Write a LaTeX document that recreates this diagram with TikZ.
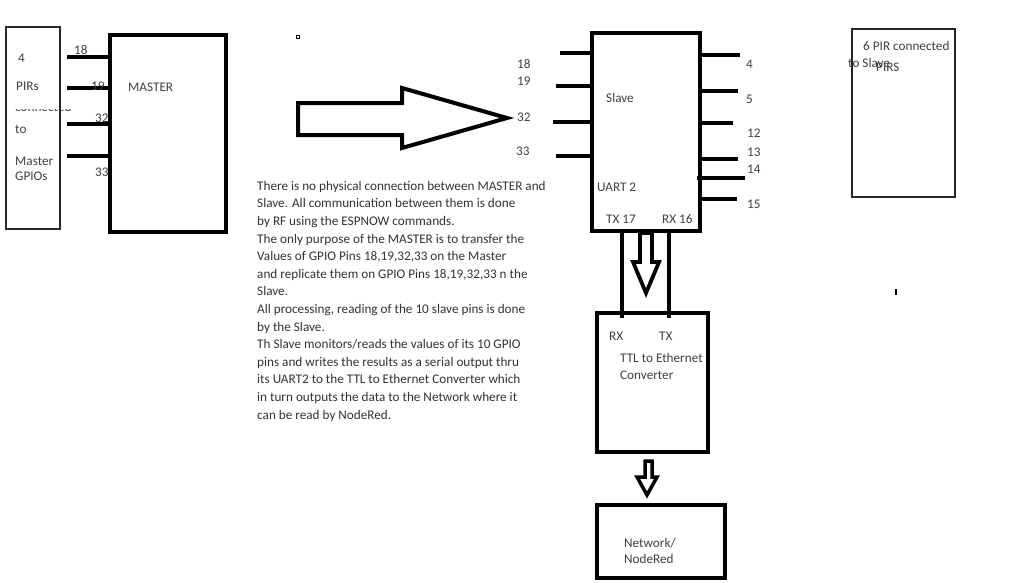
\documentclass[tikz,border=0pt]{standalone}
\usepackage{fontspec}
\setmainfont{Carlito}
\begin{document}
\begin{tikzpicture}[x=1pt,y=-1pt,
  thickbox/.style={draw=black,line width=4.5pt,minimum width=#1,inner sep=0pt},
  thinbox/.style={draw=black!85,line width=1.3pt,inner sep=0pt},
  pin/.style={line width=4pt},
  lbl/.style={text=black!75,font=\fontsize{13.2}{14}\selectfont,inner sep=0pt},
  blk/.style={line width=4pt,line join=miter}]
\useasboundingbox[fill=white] (0,0) rectangle (1035,582);

% Boxes
\node[thinbox,minimum width=54pt,minimum height=202pt] (pirL) at (33,128) {};
\node[thickbox=116pt,minimum height=197pt] (master) at (168,133.5) {};
\node[thickbox=108pt,minimum height=198pt] (slave) at (646,132) {};
\node[thinbox,minimum width=103pt,minimum height=168pt] (pirR) at (903.5,113) {};
\node[thickbox=111pt,minimum height=139pt] (ttl) at (652.5,382.5) {};
\node[thickbox=128pt,minimum height=73pt] (net) at (661,541.5) {};

% Left PIR box text
\node[lbl,anchor=west] (t4) at (18,58) {4};
\node[lbl,anchor=west] (tpirs) at (16,86) {PIRs};
\begin{scope}
\clip (8,109.5) rectangle (90,120);
\node[lbl,anchor=west] (tconn) at (15,107) {connected};
\end{scope}
\node[lbl,anchor=west] (tto) at (15,129) {to};
\node[lbl,anchor=west] (tmaster) at (15,161) {Master};
\node[lbl,anchor=west] (tgpio) at (15,176) {GPIOs};

% Master pins
\coordinate (m1) at (67,57);
\coordinate (m2) at (67,88);
\coordinate (m3) at (67,124);
\coordinate (m4) at (67,156);
\foreach \c in {m1,m2,m3,m4} \draw[pin] (\c) -- (master.west |- \c);
\node[lbl,anchor=west] (l18) at (74,50) {18};
\node[lbl,anchor=west] (l19) at (91,86) {19};
\node[lbl,anchor=west] (l32) at (95,118) {32};
\node[lbl,anchor=west] (l33) at (95,172) {33};
\node[lbl,anchor=west] (mname) at (128,87) {MASTER};

% small marks
\draw[line width=0.9pt] (296.5,35.5) rectangle (299.5,38.5);
\fill (895,289) rectangle (897,295);

% Big arrow
\draw[blk] (298,103) -- (402,103) -- (402,88) -- (507,118) -- (402,148) -- (402,135) -- (298,135) -- cycle;

% Slave left pins
\coordinate (s1) at (560,53);
\coordinate (s2) at (556,86);
\coordinate (s3) at (553,122);
\coordinate (s4) at (556,156);
\foreach \c in {s1,s2,s3,s4} \draw[pin] (\c) -- (slave.west |- \c);
\node[lbl,anchor=west] (sl18) at (517,64) {18};
\node[lbl,anchor=west] (sl19) at (517,81) {19};
\node[lbl,anchor=west] (sl32) at (517,117) {32};
\node[lbl,anchor=west] (sl33) at (516,151) {33};

% Slave right pins
\coordinate (r1) at (740,55);
\coordinate (r2) at (738,91);
\coordinate (r3) at (733,123);
\coordinate (r4) at (738,159);
\coordinate (r6) at (737,199);
\foreach \c in {r1,r2,r3,r4,r6} \draw[pin] (slave.east |- \c) -- (\c);
\coordinate (r5a) at (697,178);
\coordinate (r5) at (745,178);
\draw[pin] (r5a) -- (r5);
\node[lbl,anchor=west] (rl4) at (746,64) {4};
\node[lbl,anchor=west] (rl5) at (746,99) {5};
\node[lbl,anchor=west] (rl12) at (747,133) {12};
\node[lbl,anchor=west] (rl13) at (747,152) {13};
\node[lbl,anchor=west] (rl14) at (747,169) {14};
\node[lbl,anchor=west] (rl15) at (747,204) {15};

\node[lbl,anchor=west] (sname) at (606,98) {Slave};
\node[lbl,anchor=west] (uart) at (597,187) {UART 2};
\node[lbl,anchor=west] (tx17) at (606,219) {TX 17};
\node[lbl,anchor=west] (rx16) at (662,219) {RX 16};

% Right PIR box text
\node[lbl,anchor=west] (pr1) at (863,46) {6 PIR connected};
\node[lbl,anchor=west] (pr3) at (876,67) {PIRS};
\node[lbl,anchor=west] (pr2) at (848,63) {to Slave};

% Wires slave -> TTL
\coordinate (w1) at (622,318);
\coordinate (w2) at (669,318);
\draw[pin] (slave.south -| w1) -- (w1);
\draw[pin] (slave.south -| w2) -- (w2);

% Down arrows
\draw[line width=3.8pt,line join=miter] (640,233) -- (652,233) -- (652,262) -- (659,262) -- (646,293) -- (633,262) -- (640,262) -- cycle;
\draw[line width=3.5pt,line join=miter] (645,461) -- (652,461) -- (652,477) -- (657,477) -- (647,495) -- (637,477) -- (645,477) -- cycle;

% TTL text
\node[lbl,anchor=west] (rx) at (609,336) {RX};
\node[lbl,anchor=west] (tx) at (659,336) {TX};
\node[lbl,anchor=west] (ttl1) at (620,358) {TTL to Ethernet};
\node[lbl,anchor=west] (ttl2) at (620,375) {Converter};

% Network text
\node[lbl,anchor=west] (n1) at (624,543) {Network/};
\node[lbl,anchor=west] (n2) at (624,559) {NodeRed};

% Main text
\node[anchor=north west,inner sep=0pt,align=left,text=black!80,
  font=\fontsize{13.2}{17.6}\selectfont] (desc) at (257,181) {%
There is no physical connection between MASTER and\\
Slave. All communication between them is done\\
by RF using the ESPNOW commands.\\
The only purpose of the MASTER is to transfer the\\
Values of GPIO Pins 18,19,32,33 on the Master\\
and replicate them on GPIO Pins 18,19,32,33 n the\\
Slave.\\
All processing, reading of the 10 slave pins is done\\
by the Slave.\\
Th Slave monitors/reads the values of its 10 GPIO\\
pins and writes the results as a serial output thru\\
its UART2 to the TTL to Ethernet Converter which\\
in turn outputs the data to the Network where it\\
can be read by NodeRed.};
\end{tikzpicture}
\end{document}
